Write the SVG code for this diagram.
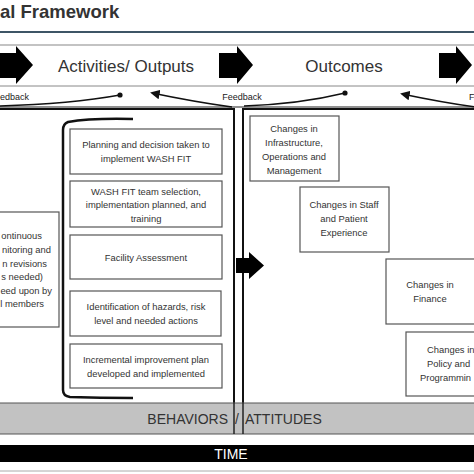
<svg xmlns="http://www.w3.org/2000/svg" width="474" height="474" viewBox="0 0 474 474">
<style>
.t{font-family:"Liberation Sans","DejaVu Sans",sans-serif;fill:#333}
.box{fill:#fff;stroke:#555;stroke-width:1.2}
.s{font-size:9.4px}
.fb{font-size:9px;fill:#222}
.panel{fill:none;stroke:#111;stroke-width:2}
.arr{fill:#000}
.cv{fill:none;stroke:#111;stroke-width:1.6}
</style>
<defs>
<marker id="ah" viewBox="0 0 10 10" refX="8" refY="5" markerWidth="6" markerHeight="6" orient="auto-start-reverse">
<path d="M0,0 L10,5 L0,10 z" fill="#111"/>
</marker>
</defs>
<rect x="0" y="0" width="474" height="474" fill="#fff"/>
<text class="t" x="0" y="18" font-size="18.5" font-weight="bold" fill="#222">al Framework</text>
<line x1="0" y1="32" x2="474" y2="32" stroke="#3d5566" stroke-width="2"/>

<g id="top-band">
<rect x="-2" y="45" width="478" height="41" fill="#fff" stroke="#888" stroke-width="1"/>
<polygon class="arr" points="-2,53 16,53 16,46 33,65 16,84 16,78 -2,78"/>
<polygon class="arr" points="219,53 237,53 237,46 253,65 237,84 237,78 219,78"/>
<polygon class="arr" points="439,53 456,53 456,46 472,65 456,84 456,78 439,78"/>
<text class="t" x="126" y="72" font-size="17" text-anchor="middle" fill="#222">Activities/ Outputs</text>
<text class="t" x="344" y="72" font-size="17" text-anchor="middle" fill="#222">Outcomes</text>
</g>

<g id="feedback">
<text class="t fb" x="0" y="100">edback</text>
<text class="t fb" x="242" y="100" text-anchor="middle">Feedback</text>
<text class="t fb" x="469" y="100">F</text>
</g>
<line x1="0" y1="107" x2="474" y2="107" stroke="#222" stroke-width="1.2"/>

<rect class="panel" x="-2" y="109" width="236" height="295"/>
<rect class="panel" x="243" y="109" width="235" height="295"/>

<g id="connectors">
<path class="cv" d="M-2,106 Q70,104 120,95"/>
<circle cx="120" cy="95" r="2.6" fill="#111"/>
<path class="cv" d="M232,107 Q195,102 152,93" marker-end="url(#ah)"/>
<path class="cv" d="M244,106 Q300,104 345,93"/>
<circle cx="345" cy="93" r="2.6" fill="#111"/>
<path class="cv" d="M476,107 Q445,103 402,94" marker-end="url(#ah)"/>
<polygon class="arr" points="236,258 249,258 249,252 264,265.5 249,279 249,273 236,273"/>
</g>

<path d="M133,119 Q90,118 68,122 Q63,124 63,130 L63,390 Q63,396 70,397 Q100,398 133,398" fill="none" stroke="#111" stroke-width="2.5"/>

<g id="left-box">
<rect class="box" x="-5" y="212" width="64" height="115"/>
<g class="t s" text-anchor="end">
<text x="42" y="239">ontinuous</text>
<text x="51" y="253">nitoring  and</text>
<text x="47" y="267">n revisions</text>
<text x="43" y="280">s needed)</text>
<text x="52" y="294">eed upon  by</text>
<text x="44" y="307">l members</text>
</g>
</g>

<g id="act1">
<rect class="box" x="70" y="129" width="152" height="45"/>
<text class="t s" x="146" y="148" text-anchor="middle">Planning and decision taken to</text>
<text class="t s" x="146" y="162" text-anchor="middle">implement  WASH FIT</text>
</g>
<g id="act2">
<rect class="box" x="70" y="181" width="152" height="46"/>
<text class="t s" x="146" y="195" text-anchor="middle">WASH FIT team selection,</text>
<text class="t s" x="146" y="208" text-anchor="middle">implementation  planned, and</text>
<text class="t s" x="146" y="222" text-anchor="middle">training</text>
</g>
<g id="act3">
<rect class="box" x="70" y="235" width="152" height="44"/>
<text class="t s" x="146" y="261" text-anchor="middle">Facility Assessment</text>
</g>
<g id="act4">
<rect class="box" x="70" y="291" width="151" height="45"/>
<text class="t s" x="146" y="310" text-anchor="middle">Identification of hazards, risk</text>
<text class="t s" x="146" y="324" text-anchor="middle">level and needed actions</text>
</g>
<g id="act5">
<rect class="box" x="70" y="344" width="152" height="44"/>
<text class="t s" x="146" y="363" text-anchor="middle">Incremental  improvement  plan</text>
<text class="t s" x="146" y="377" text-anchor="middle">developed and implemented</text>
</g>

<g id="out1">
<rect class="box" x="250" y="116" width="89" height="65"/>
<text class="t s" x="294" y="132" text-anchor="middle">Changes in</text>
<text class="t s" x="294" y="146" text-anchor="middle">Infrastructure,</text>
<text class="t s" x="294" y="160" text-anchor="middle">Operations and</text>
<text class="t s" x="294" y="174" text-anchor="middle">Management</text>
</g>
<g id="out2">
<rect class="box" x="300" y="187" width="89" height="65"/>
<text class="t s" x="344" y="208" text-anchor="middle">Changes in Staff</text>
<text class="t s" x="344" y="222" text-anchor="middle">and Patient</text>
<text class="t s" x="344" y="236" text-anchor="middle">Experience</text>
</g>
<g id="out3">
<rect class="box" x="386" y="259" width="95" height="65"/>
<text class="t s" x="430" y="288" text-anchor="middle">Changes in</text>
<text class="t s" x="430" y="302" text-anchor="middle">Finance</text>
</g>
<g id="out4">
<rect class="box" x="406" y="332" width="75" height="64"/>
<text class="t s" x="427" y="353">Changes in</text>
<text class="t s" x="427" y="367">Policy and</text>
<text class="t s" x="420" y="381">Programmin</text>
</g>

<g id="behaviors">
<rect x="-2" y="403" width="478" height="31" fill="#c2c2c2" stroke="#555" stroke-width="1"/>
<line x1="234" y1="403" x2="234" y2="434" stroke="#222" stroke-width="1.5"/>
<line x1="243" y1="403" x2="243" y2="434" stroke="#222" stroke-width="1.5"/>
<text class="t" x="228" y="424" font-size="14" text-anchor="end" fill="#222">BEHAVIORS</text>
<text class="t" x="237" y="424" font-size="14" text-anchor="middle" fill="#222">/</text>
<text class="t" x="245" y="424" font-size="14" fill="#222">ATTITUDES</text>
</g>
<g id="time">
<rect x="-2" y="445" width="478" height="17" fill="#000"/>
<text x="231" y="458.5" font-family="Liberation Sans, sans-serif" font-size="14" text-anchor="middle" fill="#fff">TIME</text>
</g>
<line x1="0" y1="471" x2="474" y2="471" stroke="#aaa" stroke-width="1"/>
</svg>
